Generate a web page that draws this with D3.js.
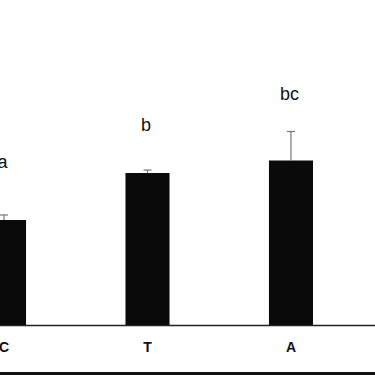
<!DOCTYPE html>
<html>
<head>
<meta charset="utf-8">
<script src="https://cdn.jsdelivr.net/npm/d3@7"></script>
<style>
  html, body { margin: 0; padding: 0; background: #fff; }
  svg { display: block; }
</style>
</head>
<body>
<svg id="chart" width="375" height="375"></svg>
<script>
// Data
const categories = ["C", "T", "A"];
const means = [1.05, 1.52, 1.645];
const errors = [0.05, 0.03, 0.29];
const letters = ["a", "b", "bc"];
const letterLevels = [1.57, 1.94, 2.25];

const W = 375, H = 375;
const svg = d3.select("#chart");

const x = d3.scaleBand()
  .domain(categories)
  .range([-18, 313])
  .paddingInner(0.693)
  .paddingOuter(0);

const y = d3.scaleLinear().domain([0, 2]).range([325, 125]);

// background
svg.append("rect").attr("width", W).attr("height", H).attr("fill", "#fff");

// bars
svg.selectAll("rect.bar")
  .data(categories)
  .join("rect")
  .attr("class", "bar")
  .attr("x", d => x(d))
  .attr("width", x.bandwidth())
  .attr("y", (d, i) => y(means[i]))
  .attr("height", (d, i) => y(0) - y(means[i]))
  .attr("fill", "#0a0a0a");

// error bars
const eb = svg.selectAll("g.err")
  .data(categories)
  .join("g")
  .attr("class", "err");
eb.append("line")
  .attr("x1", d => x(d) + x.bandwidth() / 2)
  .attr("x2", d => x(d) + x.bandwidth() / 2)
  .attr("y1", (d, i) => y(means[i]))
  .attr("y2", (d, i) => y(means[i] + errors[i]))
  .attr("stroke", "#777")
  .attr("stroke-width", 1.2);
eb.append("line")
  .attr("x1", d => x(d) + x.bandwidth() / 2 - 4)
  .attr("x2", d => x(d) + x.bandwidth() / 2 + 4)
  .attr("y1", (d, i) => y(means[i] + errors[i]))
  .attr("y2", (d, i) => y(means[i] + errors[i]))
  .attr("stroke", "#777")
  .attr("stroke-width", 1.2);

// significance letters
svg.selectAll("text.sig")
  .data(categories)
  .join("text")
  .attr("class", "sig")
  .attr("x", d => x(d) + x.bandwidth() / 2 - 1.5)
  .attr("y", (d, i) => y(letterLevels[i]))
  .attr("text-anchor", "middle")
  .attr("font-family", "Liberation Sans, Arial, sans-serif")
  .attr("font-size", 18)
  .attr("fill", "#111")
  .text((d, i) => letters[i]);

// baseline across full width
svg.append("line")
  .attr("x1", 0).attr("x2", W)
  .attr("y1", y(0) + 0.5).attr("y2", y(0) + 0.5)
  .attr("stroke", "#222")
  .attr("stroke-width", 1.5);

// x axis labels
const axis = svg.append("g")
  .attr("transform", `translate(0,${y(0)})`)
  .call(d3.axisBottom(x).tickSize(0).tickPadding(17));
axis.select(".domain").remove();
axis.selectAll("text")
  .attr("font-family", "Liberation Sans, Arial, sans-serif")
  .attr("font-size", 14)
  .attr("font-weight", "bold")
  .attr("fill", "#111");

// bottom frame line
svg.append("rect")
  .attr("x", 0).attr("y", 372)
  .attr("width", W).attr("height", 3)
  .attr("fill", "#111");
</script>
</body>
</html>
